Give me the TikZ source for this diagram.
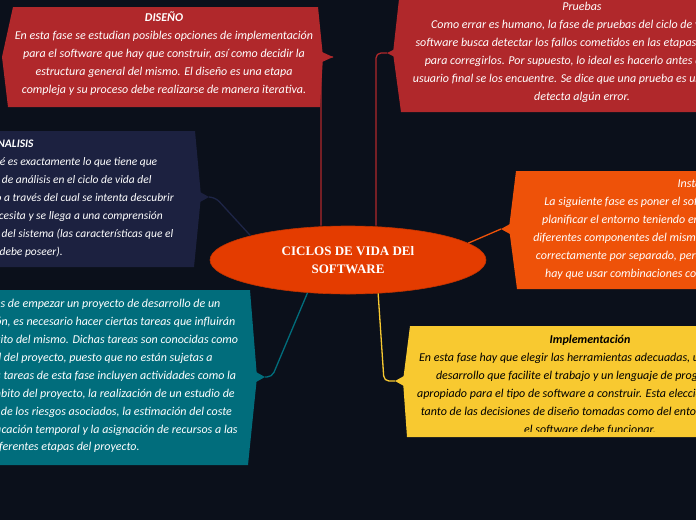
\documentclass[tikz,border=0pt]{standalone}
\usepackage{fontspec}
\setmainfont{Carlito}
\newfontfamily\titlefont{Liberation Serif}
\usetikzlibrary{shapes.geometric}

\definecolor{bgnavy}{HTML}{0B101B}
\definecolor{redbox}{HTML}{B0282B}
\definecolor{navybox}{HTML}{1C2140}
\definecolor{navylink}{HTML}{1E2547}
\definecolor{tealbox}{HTML}{016D7C}
\definecolor{orangebox}{HTML}{EE5209}
\definecolor{yellowbox}{HTML}{F8C930}
\definecolor{centre}{HTML}{E43C00}

\tikzset{
  centrebox/.style={ellipse, fill=centre, draw=centre!85!black, line width=0.6pt,
    minimum width=276pt, minimum height=68pt, inner sep=0pt, align=center,
    text=white, font=\titlefont\bfseries\fontsize{13}{18}\selectfont},
  phasetext/.style={align=center, inner sep=0pt, anchor=north, text=#1,
    font=\itshape\fontsize{12}{17.9}\selectfont},
  phasetext/.default=white,
  link/.style={draw=#1, line width=1.3pt, rounded corners=5pt},
}

\begin{document}
\begin{tikzpicture}[x=1pt,y=-1pt]
  % Background
  \fill[bgnavy] (0,0) rectangle (696,520);
  \useasboundingbox (0,0) rectangle (696,520);

  % Central topic
  \node[centrebox] (cen) at (348,260) {CICLOS DE VIDA DEl\\SOFTWARE};

  % Connector points
  \coordinate (dis-k) at (321,57);
  \coordinate (dis-m) at (333,57);
  \coordinate (pru-k) at (376,53);
  \coordinate (pru-m) at (387,53);
  \coordinate (ana-m) at (209,197);
  \coordinate (ana-k) at (216,198);
  \coordinate (pla-m) at (265,377);
  \coordinate (pla-k) at (272,377);
  \coordinate (ins-m) at (501,229);
  \coordinate (imp-k) at (384,381);
  \coordinate (imp-m) at (395,381);

  % Connectors
  \draw[link=redbox] (cen.north -| dis-k) -- (dis-k) -- (dis-m);
  \draw[link=redbox] (cen.north -| pru-k) -- (pru-k) -- (pru-m);
  \draw[link=navylink] (cen.166) -- (ana-k) -- (ana-m);
  \draw[link=tealbox] (cen.219) -- (pla-k) -- (pla-m);
  \draw[link=orangebox] (cen.8) -- (ins-m);
  \draw[link=yellowbox] (cen.312) -- (imp-k) -- (imp-m);

  % Diseno
  \fill[redbox] (13,7) -- (318,7) -- (323,57) -- (320,107) -- (8,107) -- (2,57) -- cycle;
  \fill[redbox] (322,52) -- (dis-m) -- (322,62) -- cycle;
  \node[phasetext] (dis-t) at (164,9) {\strut\textbf{DISEÑO}\\
    En esta fase se estudian posibles opciones de implementación\\
    para el software que hay que construir, así como decidir la\\
    estructura general del mismo. El diseño es una etapa\\
    compleja y su proceso debe realizarse de manera iterativa.};

  % Pruebas
  \fill[redbox] (400,-10) -- (710,-10) -- (710,112) -- (401,112) -- (393,53) -- cycle;
  \fill[redbox] (395,49) -- (pru-m) -- (395,57) -- cycle;
  \node[phasetext] (pru-t) at (582,-2) {\strut Pruebas\\
    Como errar es humano, la fase de pruebas del ciclo de vida del\\
    software busca detectar los fallos cometidos en las etapas anteriores\\
    para corregirlos. Por supuesto, lo ideal es hacerlo antes de que el\\
    usuario final se los encuentre. Se dice que una prueba es un éxito si se\\
    detecta algún error.};

  % Analisis
  \fill[navybox] (-200,131) -- (195,131) -- (201,196) -- (194,267) -- (-200,267) -- cycle;
  \fill[navybox] (200,192) -- (ana-m) -- (200,202) -- cycle;
  \node[phasetext, font=\itshape\fontsize{11.5}{17.9}\selectfont] (ana-t) at (12,135) {\strut\textbf{ANALISIS}\\
    En esta fase se determina qué es exactamente lo que tiene que\\
    hacer el software. La etapa de análisis en el ciclo de vida del\\
    software corresponde al proceso a través del cual se intenta descubrir\\
    qué es lo que realmente se necesita y se llega a una comprensión\\
    adecuada de los requerimientos del sistema (las características que el\\
    sistema debe poseer).};

  % Planificacion
  \fill[tealbox] (-200,290) -- (250,290) -- (257,377) -- (248,465) -- (-200,465) -- cycle;
  \fill[tealbox] (256,372) -- (pla-m) -- (256,382) -- cycle;
  \node[phasetext] (pla-t) at (65,295) {\strut Planificación: Antes de empezar un proyecto de desarrollo de un\\
    sistema de información, es necesario hacer ciertas tareas que influirán\\
    decisivamente en el éxito del mismo. Dichas tareas son conocidas como\\
    el fuzzy front-end del proyecto, puesto que no están sujetas a\\
    plazos. Algunas de las tareas de esta fase incluyen actividades como la\\
    determinación del ámbito del proyecto, la realización de un estudio de\\
    viabilidad, el análisis de los riesgos asociados, la estimación del coste\\
    del proyecto, su planificación temporal y la asignación de recursos a las\\
    diferentes etapas del proyecto.};

  % Instalacion
  \fill[orangebox] (516,171) -- (900,171) -- (900,289) -- (517,289) -- (509,228) -- cycle;
  \fill[orangebox] (510,224) -- (ins-m) -- (510,234) -- cycle;
  \node[phasetext] (ins-t) at (704,175) {\strut Instalación\\
    La siguiente fase es poner el software en funcionamiento, hay que\\
    planificar el entorno teniendo en cuenta las dependencias entre los\\
    diferentes componentes del mismo. Puede haber partes que funcionen\\
    correctamente por separado, pero que al combinarlas fallen. Por ello,\\
    hay que usar combinaciones conocidas que no causen problemas.};

  % Implementacion
  \fill[yellowbox] (410,326) -- (900,326) -- (900,437) -- (407,437) -- (403,381) -- cycle;
  \fill[yellowbox] (404,376) -- (imp-m) -- (404,386) -- cycle;
  \begin{scope}
    \clip (400,326) rectangle (900,431);
    \node[phasetext=black] (imp-t) at (590,331) {\strut\textbf{Implementación}\\
      En esta fase hay que elegir las herramientas adecuadas, un entorno de\\
      desarrollo que facilite el trabajo y un lenguaje de programación\\
      apropiado para el tipo de software a construir. Esta elección dependerá\\
      tanto de las decisiones de diseño tomadas como del entorno en el que\\
      el software debe funcionar.};
  \end{scope}
\end{tikzpicture}
\end{document}
